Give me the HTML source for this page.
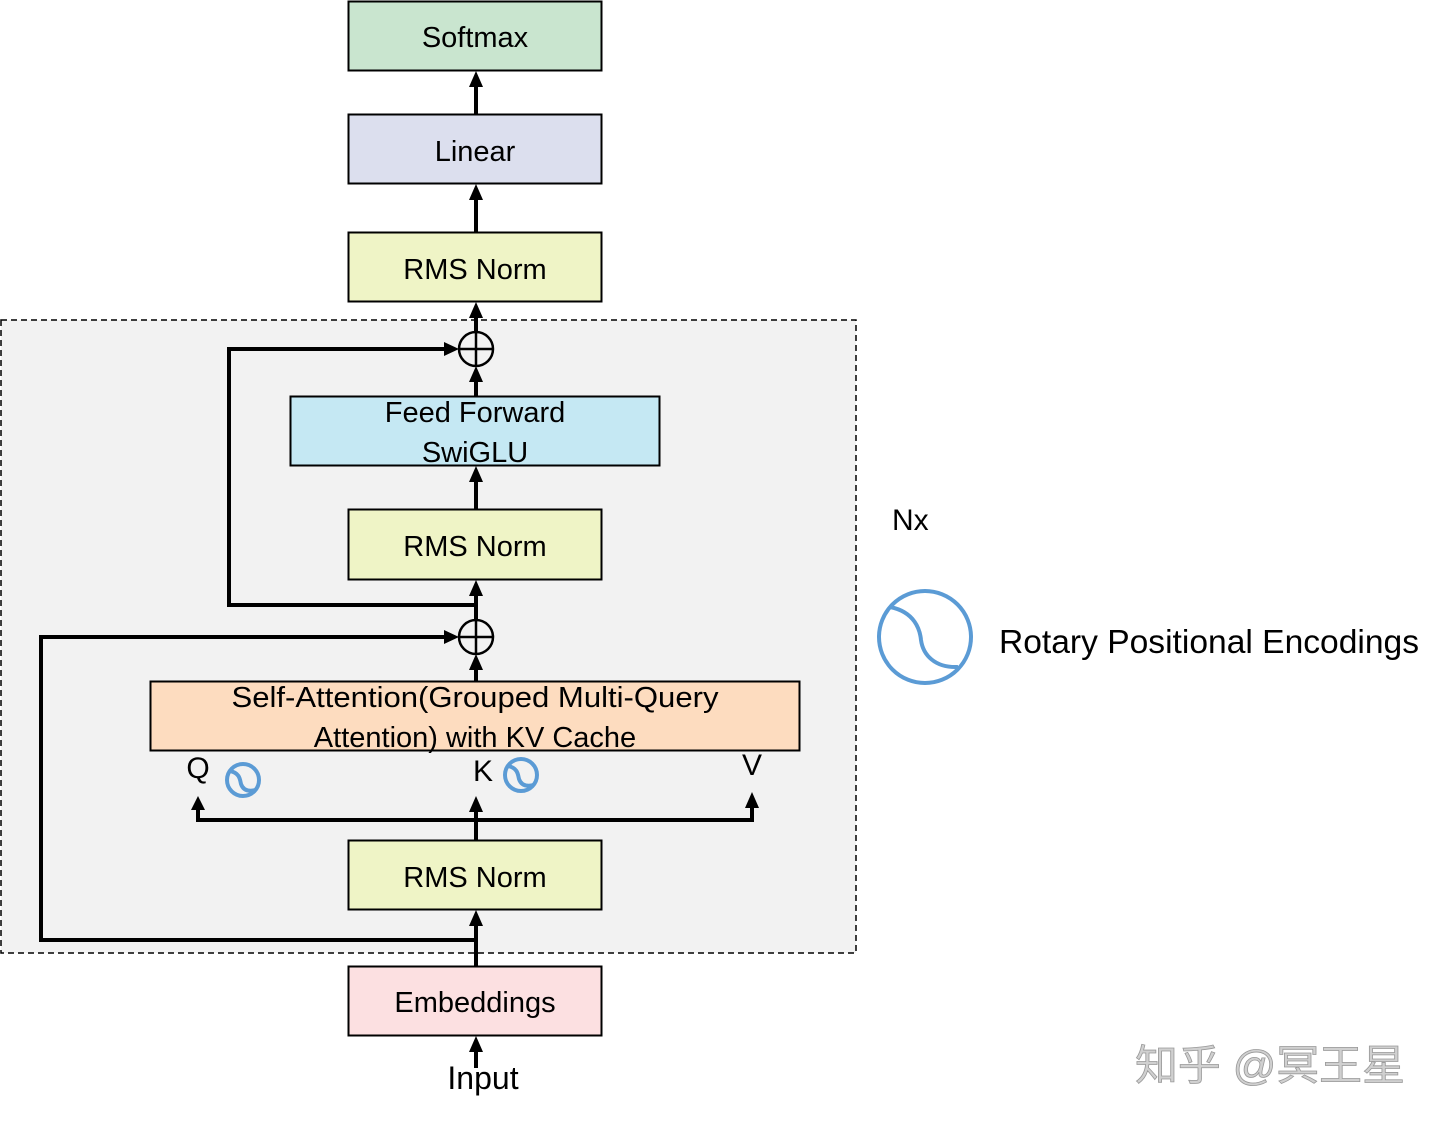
<!DOCTYPE html>
<html><head><meta charset="utf-8"><style>
html,body{margin:0;padding:0;background:#fff;}
svg{display:block;}
text{font-family:"Liberation Sans","Noto Sans CJK SC",sans-serif;fill:#000;}
</style></head><body>
<svg width="1444" height="1123" viewBox="0 0 1444 1123" xmlns="http://www.w3.org/2000/svg">
<rect x="1" y="320" width="855" height="633" fill="#f2f2f2" stroke="#000" stroke-width="1.5" stroke-dasharray="6,4"/>
<rect x="348.5" y="1.5" width="253" height="69" fill="#c9e5cf" stroke="#000" stroke-width="2"/>
<rect x="348.5" y="114.5" width="253" height="69" fill="#dcdfee" stroke="#000" stroke-width="2"/>
<rect x="348.5" y="232.5" width="253" height="69" fill="#eff4c6" stroke="#000" stroke-width="2"/>
<rect x="290.5" y="396.5" width="369" height="69" fill="#c5e8f3" stroke="#000" stroke-width="2"/>
<rect x="348.5" y="509.5" width="253" height="70" fill="#eff4c6" stroke="#000" stroke-width="2"/>
<rect x="150.5" y="681.5" width="649" height="69" fill="#fddcbf" stroke="#000" stroke-width="2"/>
<rect x="348.5" y="840.5" width="253" height="69" fill="#eff4c6" stroke="#000" stroke-width="2"/>
<rect x="348.5" y="966.5" width="253" height="69" fill="#fce0e1" stroke="#000" stroke-width="2"/>
<g font-size="29" text-anchor="middle">
<text x="475" y="47">Softmax</text>
<text x="475" y="161">Linear</text>
<text x="475" y="279">RMS Norm</text>
<text x="475" y="422">Feed Forward</text>
<text x="475" y="462">SwiGLU</text>
<text x="475" y="556">RMS Norm</text>
<text x="475" y="707" textLength="487" lengthAdjust="spacingAndGlyphs">Self-Attention(Grouped Multi-Query</text>
<text x="475" y="747">Attention) with KV Cache</text>
<text x="475" y="887">RMS Norm</text>
<text x="475" y="1012">Embeddings</text>
<text x="483" y="1089" font-size="32">Input</text>
<text x="198" y="778" font-size="30">Q</text>
<text x="483" y="781" font-size="30">K</text>
<text x="752" y="775" font-size="30">V</text>
</g>
<text x="892" y="530" font-size="30">Nx</text>
<text x="999" y="653" font-size="33" textLength="420" lengthAdjust="spacingAndGlyphs">Rotary Positional Encodings</text>
<text x="1135" y="1080" font-size="42" style="fill:#d0d0d0;stroke:#999;stroke-width:0.8" textLength="270" lengthAdjust="spacingAndGlyphs">知乎 @冥王星</text>
<g stroke="#000" stroke-width="4" fill="none">
<line x1="476" y1="1068" x2="476" y2="1050"/>
<line x1="476" y1="966" x2="476" y2="925"/>
<polyline points="476,940 41,940 41,637 446,637"/>
<line x1="476" y1="840" x2="476" y2="810"/>
<polyline points="198,808 198,820 752,820 752,808"/>
<line x1="476" y1="681" x2="476" y2="668"/>
<line x1="476" y1="620" x2="476" y2="596"/>
<polyline points="476,605 229,605 229,349 446,349"/>
<line x1="476" y1="509" x2="476" y2="481"/>
<line x1="476" y1="396" x2="476" y2="380"/>
<line x1="476" y1="332" x2="476" y2="316"/>
<line x1="476" y1="232" x2="476" y2="198"/>
<line x1="476" y1="114" x2="476" y2="86"/>
</g>
<g stroke="#000" stroke-width="2.5" fill="none">
<circle cx="476" cy="349" r="17"/><line x1="459" y1="349" x2="493" y2="349"/><line x1="476" y1="332" x2="476" y2="366"/>
<circle cx="476" cy="637" r="17"/><line x1="459" y1="637" x2="493" y2="637"/><line x1="476" y1="620" x2="476" y2="654"/>
</g>
<g fill="#000">
<polygon points="476,1036 469,1052 483,1052"/>
<polygon points="476,910 469,926 483,926"/>
<polygon points="459,637 444,630 444,644"/>
<polygon points="476,796 469,812 483,812"/>
<polygon points="198,796 191,810 205,810"/>
<polygon points="752,792 745,808 759,808"/>
<polygon points="476,654 469,670 483,670"/>
<polygon points="476,580 469,596 483,596"/>
<polygon points="476,466 469,482 483,482"/>
<polygon points="459,349 444,342 444,356"/>
<polygon points="476,366 469,382 483,382"/>
<polygon points="476,302 469,318 483,318"/>
<polygon points="476,184 469,200 483,200"/>
<polygon points="476,71 469,87 483,87"/>
</g>
<g stroke="#5b9bd5" fill="none">
<g stroke-width="4"><circle cx="925" cy="637" r="46"/><path d="M890,607 C915,612 920,630 921,640 C923,655 935,668 958,667"/></g>
<g stroke-width="4"><circle cx="243" cy="780" r="16"/><path d="M230,771 C240,773 240,780 241,784 C243,790 248,792 256,790"/></g>
<g stroke-width="4"><circle cx="521" cy="775" r="16"/><path d="M508,766 C518,768 518,775 519,779 C521,785 526,787 534,785"/></g>
</g>
</svg>
</body></html>
